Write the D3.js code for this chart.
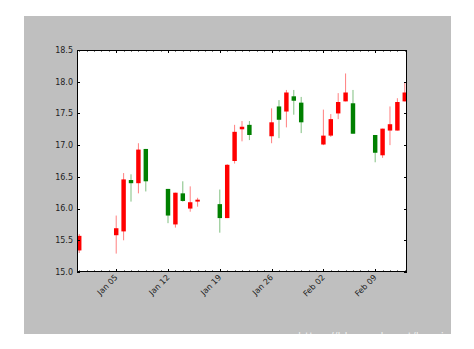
<!DOCTYPE html>
<html>
<head>
<meta charset="utf-8">
<script src="https://cdn.jsdelivr.net/npm/d3@7"></script>
<style>
    html, body { margin: 0; padding: 0; background: #fff; }
    svg { display: block; }
    .tick-label { font-family: "DejaVu Sans", sans-serif; font-size: 8px; fill: #222; }
</style>
</head>
<body>
<div id="chart"></div>
<script>
// Daily quotes
const dates = [
    '2003-12-31',
    '2004-01-05', '2004-01-06', '2004-01-07', '2004-01-08', '2004-01-09',
    '2004-01-12', '2004-01-13', '2004-01-14', '2004-01-15', '2004-01-16',
    '2004-01-19', '2004-01-20', '2004-01-21', '2004-01-22', '2004-01-23',
    '2004-01-26', '2004-01-27', '2004-01-28', '2004-01-29', '2004-01-30',
    '2004-02-02', '2004-02-03', '2004-02-04', '2004-02-05', '2004-02-06',
    '2004-02-09', '2004-02-10', '2004-02-11', '2004-02-12', '2004-02-13'
];
const opens = [
    15.34,
    15.58, 15.64, 16.45, 16.40, 16.94,
    16.31, 15.75, 16.24, 16.00, 16.11,
    16.07, 15.85, 16.75, 17.25, 17.32,
    17.14, 17.61, 17.53, 17.77, 17.67,
    17.01, 17.15, 17.50, 17.69, 17.66,
    17.16, 16.84, 17.23, 17.23, 17.69
];
const highs = [
    15.60,
    15.89, 16.56, 16.54, 17.03, 16.94,
    16.31, 16.25, 16.43, 16.35, 16.17,
    16.30, 16.70, 17.32, 17.38, 17.38,
    17.58, 17.71, 17.87, 17.87, 17.76,
    17.56, 17.49, 17.82, 18.13, 17.87,
    17.16, 17.26, 17.61, 17.74, 17.98
];
const lows = [
    15.30,
    15.29, 15.50, 16.11, 16.24, 16.27,
    15.77, 15.70, 16.11, 15.95, 16.03,
    15.62, 15.85, 16.71, 17.06, 17.08,
    17.03, 17.11, 17.28, 17.48, 17.19,
    17.00, 17.13, 17.41, 17.69, 17.18,
    16.73, 16.80, 17.00, 17.23, 17.69
];
const closes = [
    15.57,
    15.69, 16.46, 16.40, 16.93, 16.43,
    15.89, 16.25, 16.12, 16.10, 16.14,
    15.85, 16.69, 17.21, 17.29, 17.16,
    17.36, 17.40, 17.83, 17.70, 17.36,
    17.15, 17.41, 17.68, 17.83, 17.18,
    16.88, 17.26, 17.33, 17.68, 17.83
];
const yTicks = [15.0, 15.5, 16.0, 16.5, 17.0, 17.5, 18.0, 18.5];

const CandleChart = {
    width: 474,
    height: 349,
    plot: { left: 77, top: 50, right: 407, bottom: 272 },

    init() {
        this.quotes = dates.map((d, i) => ({
            date: new Date(d + 'T00:00:00Z'),
            open: opens[i],
            high: highs[i],
            low: lows[i],
            close: closes[i]
        }));

        this.svg = d3.select('#chart').append('svg')
            .attr('width', this.width)
            .attr('height', this.height);

        this.setupScales();
        this.render();
    },

    setupScales() {
        const p = this.plot;
        // x limits come from the candle edges (width 0.6 day)
        const first = this.quotes[0].date;
        const last = this.quotes[this.quotes.length - 1].date;
        const dayMs = 864e5;
        this.x = d3.scaleUtc()
            .domain([new Date(+first - 0.3 * dayMs), new Date(+last + 0.3 * dayMs)])
            .range([p.left, p.right]);
        this.y = d3.scaleLinear()
            .domain([15, 18.5])
            .range([p.bottom, p.top]);
        this.dayWidth = this.x(new Date(+first + dayMs)) - this.x(first);
    },

    render() {
        const svg = this.svg;
        const p = this.plot;
        const x = this.x, y = this.y;

        // figure background
        svg.append('rect')
            .attr('x', 24).attr('y', 16)
            .attr('width', 427).attr('height', 318)
            .attr('fill', '#bfbfbf');

        svg.append('rect')
            .attr('x', p.left).attr('y', p.top)
            .attr('width', p.right - p.left).attr('height', p.bottom - p.top)
            .attr('fill', '#fff');

        svg.append('clipPath').attr('id', 'plot-clip')
            .append('rect')
            .attr('x', p.left).attr('y', p.top)
            .attr('width', p.right - p.left).attr('height', p.bottom - p.top);

        const g = svg.append('g').attr('clip-path', 'url(#plot-clip)');
        const bodyW = this.dayWidth * 0.6;
        const color = d => d.close >= d.open ? '#ff0000' : '#008000';

        // wicks
        g.selectAll('.wick')
            .data(this.quotes)
            .join('line')
            .attr('class', 'wick')
            .attr('x1', d => x(d.date)).attr('x2', d => x(d.date))
            .attr('y1', d => y(d.high)).attr('y2', d => y(d.low))
            .attr('stroke', color)
            .attr('stroke-opacity', 0.5)
            .attr('stroke-width', 1);

        // bodies
        g.selectAll('.body')
            .data(this.quotes)
            .join('rect')
            .attr('class', 'body')
            .attr('x', d => x(d.date) - bodyW / 2)
            .attr('width', bodyW)
            .attr('y', d => y(Math.max(d.open, d.close)))
            .attr('height', d => Math.max(1, Math.abs(y(d.open) - y(d.close))))
            .attr('fill', color);

        this.renderAxes();
    },

    renderAxes() {
        const svg = this.svg;
        const p = this.plot;
        const x = this.x, y = this.y;
        const [d0, d1] = x.domain();
        const majors = d3.utcMonday.range(d0, d1);
        const minors = d3.utcDay.range(d3.utcDay.ceil(d0), d1);
        const fmt = d3.utcFormat('%b %d');
        const axisG = svg.append('g').attr('stroke', '#000').attr('stroke-width', 1);

        // x ticks, inward on bottom and top
        const xTick = (list, len) => {
            list.forEach(d => {
                const px = Math.round(x(d)) + 0.5;
                axisG.append('line')
                    .attr('x1', px).attr('x2', px)
                    .attr('y1', p.bottom).attr('y2', p.bottom - len);
                axisG.append('line')
                    .attr('x1', px).attr('x2', px)
                    .attr('y1', p.top).attr('y2', p.top + len);
            });
        };
        xTick(minors, 1.5);
        xTick(majors, 3);

        // y ticks, inward on left and right
        yTicks.forEach(v => {
            const py = Math.round(y(v)) + 0.5;
            axisG.append('line')
                .attr('x1', p.left).attr('x2', p.left + 3)
                .attr('y1', py).attr('y2', py);
            axisG.append('line')
                .attr('x1', p.right).attr('x2', p.right - 3)
                .attr('y1', py).attr('y2', py);
        });

        // frame
        svg.append('rect')
            .attr('x', p.left + 0.5).attr('y', p.top + 0.5)
            .attr('width', p.right - p.left - 1).attr('height', p.bottom - p.top - 1)
            .attr('fill', 'none')
            .attr('stroke', '#000')
            .attr('stroke-width', 1);

        // y labels
        svg.selectAll('.y-label')
            .data(yTicks)
            .join('text')
            .attr('class', 'tick-label y-label')
            .attr('x', p.left - 4)
            .attr('y', v => y(v))
            .attr('dy', '0.35em')
            .attr('text-anchor', 'end')
            .text(v => v.toFixed(1));

        // x labels, rotated 45 degrees
        svg.selectAll('.x-label')
            .data(majors)
            .join('text')
            .attr('class', 'tick-label x-label')
            .attr('text-anchor', 'end')
            .attr('transform', d => `translate(${x(d) + 2},${p.bottom + 6}) rotate(-45)`)
            .text(d => fmt(d));

        // watermark
        svg.append('text')
            .attr('x', 298)
            .attr('y', 340)
            .attr('font-family', '"DejaVu Sans", sans-serif')
            .attr('font-size', 11)
            .attr('fill', '#ffffff')
            .attr('fill-opacity', 0.75)
            .text('https://blog.csdn.net/bernicechi');
    }
};

CandleChart.init();
</script>
</body>
</html>
